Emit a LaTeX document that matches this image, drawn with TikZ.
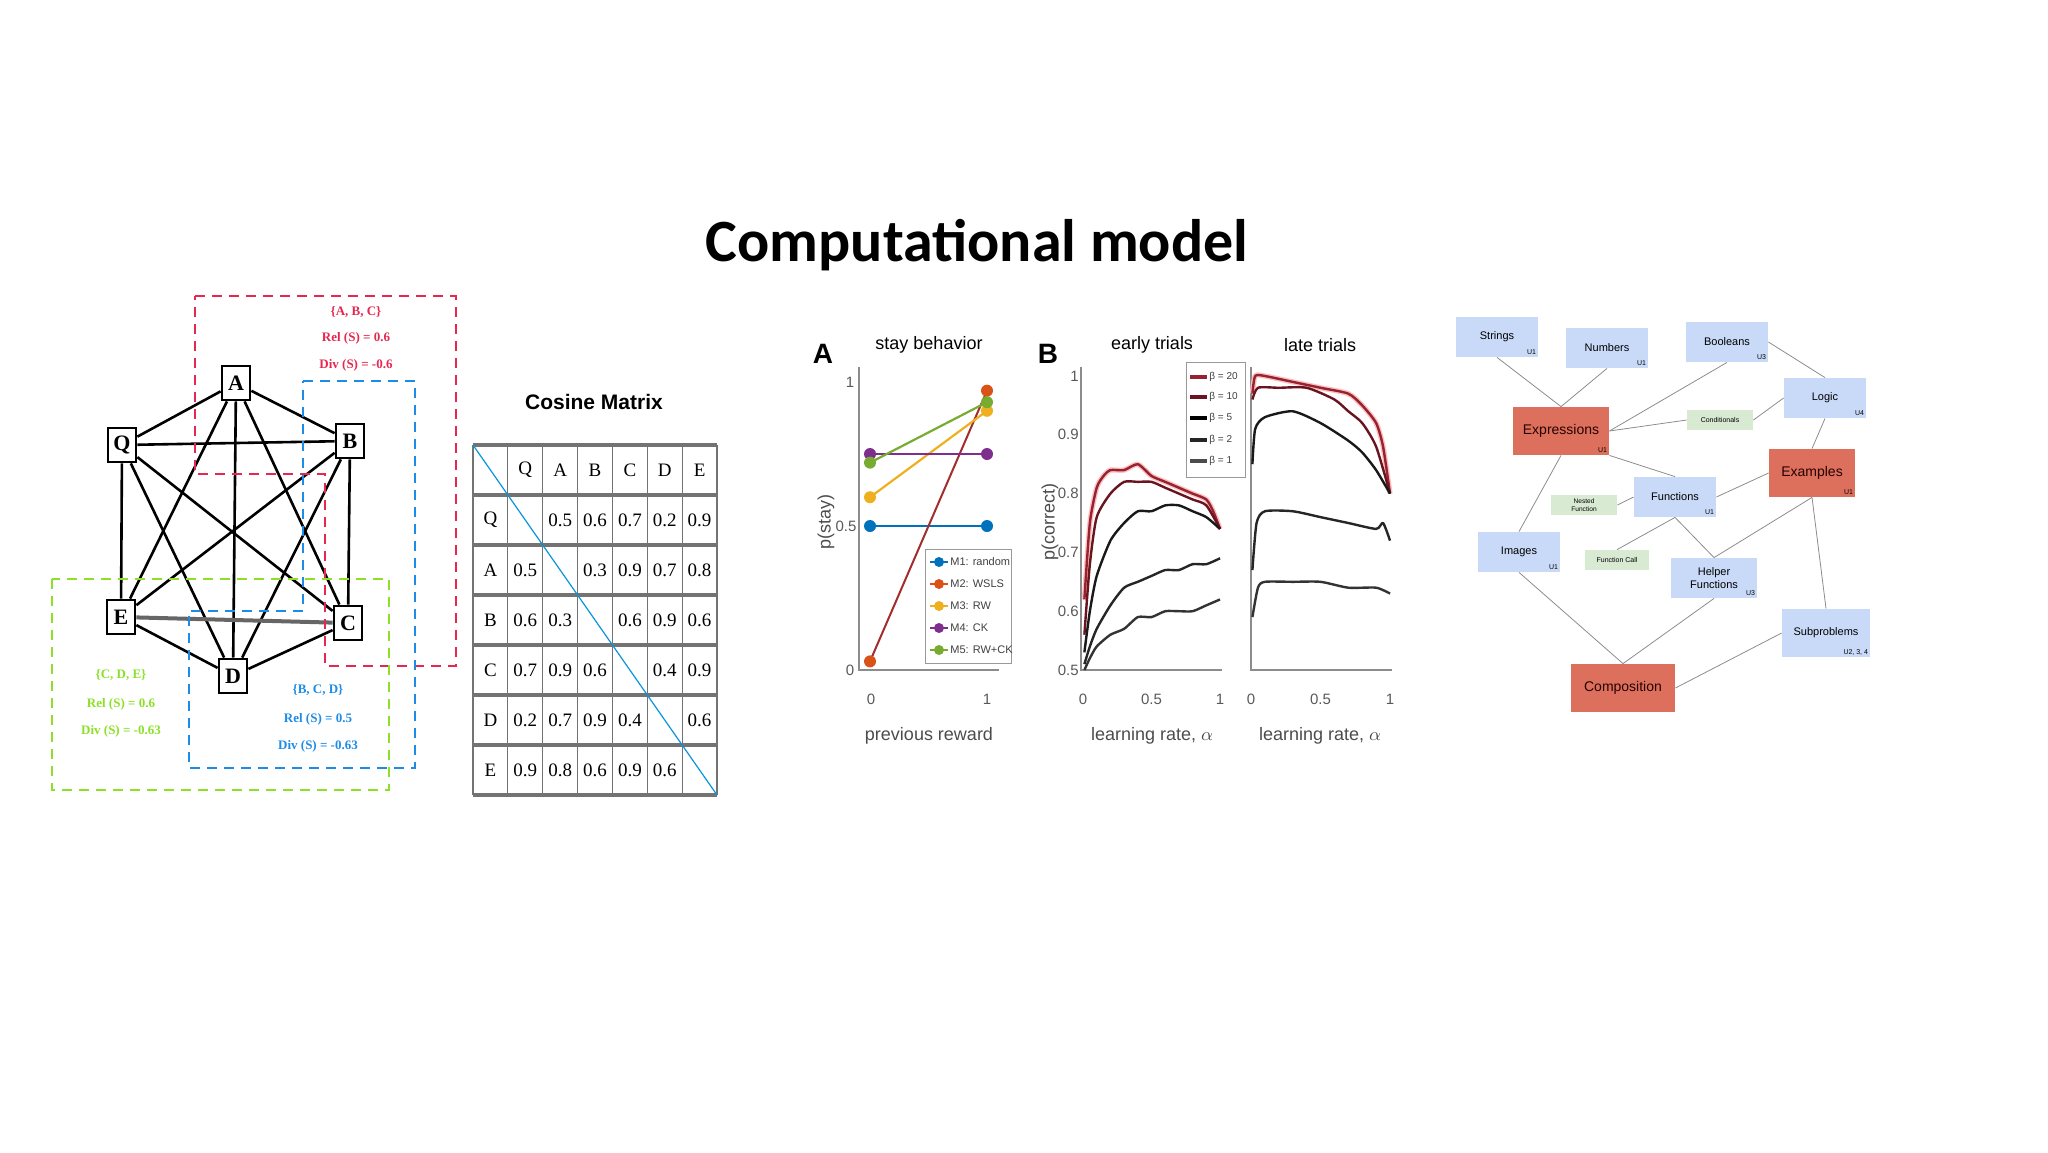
\documentclass[tikz,border=0pt]{standalone}
\usepackage{fontspec}
\setmainfont{Liberation Sans}
\newfontfamily\titlefont{Carlito}
\newfontfamily\serifb{Liberation Serif}
\definecolor{dred}{RGB}{230,40,80}
\definecolor{dblue}{RGB}{30,140,230}
\definecolor{dgreen}{RGB}{140,225,40}
\definecolor{mblue}{RGB}{0,114,189}
\definecolor{morange}{RGB}{217,83,25}
\definecolor{myellow}{RGB}{237,177,32}
\definecolor{mpurple}{RGB}{126,47,142}
\definecolor{mgreen}{RGB}{119,172,48}
\definecolor{b20}{RGB}{150,35,50}
\definecolor{b10}{RGB}{105,20,30}
\definecolor{cblue}{RGB}{201,218,248}
\definecolor{csalmon}{RGB}{221,112,92}
\definecolor{cgreen}{RGB}{217,234,211}
\tikzset{
  gnode/.style={draw,line width=1.4pt,fill=white,minimum width=14pt,minimum height=17pt,inner sep=1pt,font=\serifb\bfseries\fontsize{11}{11}\selectfont},
  gedge/.style={line width=1.3pt,black},
  dbox/.style={line width=1.3pt,dash pattern=on 5pt off 3.5pt},
  dlab/.style={font=\serifb\bfseries\fontsize{6.5}{7}\selectfont},
  mtx/.style={font=\serifb\fontsize{9.5}{10}\selectfont,inner sep=0pt},
  tick/.style={font=\fontsize{7.5}{8}\selectfont,text=black!65,inner sep=0pt},
  ax/.style={draw=black!45,line width=0.6pt},
  dot/.style={circle,inner sep=0pt,minimum size=6pt},
  cb/.style={fill=cblue,minimum width=#1,minimum height=20pt,inner sep=1pt,font=\fontsize{5.5}{6}\selectfont},
  cs/.style={fill=csalmon,minimum width=#1,minimum height=24pt,inner sep=1pt,font=\fontsize{7}{8}\selectfont,text=black!85!red},
  cg/.style={fill=cgreen,minimum width=#1,minimum height=10pt,inner sep=1pt,font=\fontsize{3.5}{4}\selectfont},
  cl/.style={draw=black!45,line width=0.4pt},
  unit/.style={font=\fontsize{3.5}{4}\selectfont,inner sep=1pt}
}
\begin{document}
\begin{tikzpicture}[x=0.5pt,y=-0.5pt]
\useasboundingbox (0,0) rectangle (2048,1152);
\node[font=\titlefont\bfseries\fontsize{30}{34}\selectfont] (title) at (977,245) {Computational model};
% ---------- graph ----------
\node[gnode] (A) at (236,383) {A};
\node[gnode] (Q) at (122,445) {Q};
\node[gnode] (B) at (350,441) {B};
\node[gnode] (E) at (121,617) {E};
\node[gnode] (C) at (348,623) {C};
\node[gnode] (D) at (233,676) {D};
\begin{scope}[on background layer/.style={}]
\foreach \u/\v in {Q/A,A/B,Q/B,A/E,A/C,A/D,Q/E,Q/D,Q/C,B/E,B/D,B/C,E/D,C/D}
  \draw[gedge] (\u) -- (\v);
\draw[line width=2pt,black!60] (E) -- (C);
\end{scope}
\foreach \n in {A,Q,B,E,C,D} \node[gnode] at (\n) {\n};
\draw[dbox,dred] (195,296) -- (456,296) -- (456,666) -- (325,666) -- (325,474) -- (195,474) -- cycle;
\draw[dbox,dblue] (303,381) -- (415,381) -- (415,768) -- (189,768) -- (189,611) -- (303,611) -- cycle;
\draw[dbox,dgreen] (52,579) rectangle (389,790);
\node[dlab,text=dred] (r1) at (356,312) {\{A, B, C\}};
\node[dlab,text=dred] (r2) at (356,338) {Rel (S) = 0.6};
\node[dlab,text=dred] (r3) at (356,365) {Div (S) = -0.6};
\node[dlab,text=dgreen] (g1) at (121,675) {\{C, D, E\}};
\node[dlab,text=dgreen] (g2) at (121,704) {Rel (S) = 0.6};
\node[dlab,text=dgreen] (g3) at (121,731) {Div (S) = -0.63};
\node[dlab,text=dblue] (b1) at (318,690) {\{B, C, D\}};
\node[dlab,text=dblue] (b2) at (318,719) {Rel (S) = 0.5};
\node[dlab,text=dblue] (b3) at (318,746) {Div (S) = -0.63};
% ---------- cosine matrix ----------
\node[font=\bfseries\fontsize{10.5}{11}\selectfont] (ctitle) at (594,402) {Cosine Matrix};
\foreach \i in {0,...,7} \draw[black!55,line width=0.6pt] ({473+34.86*\i},445) -- ({473+34.86*\i},795);
\foreach \j in {0,...,7} \draw[black!55,line width=1.6pt] (473,{445+50*\j}) -- (717,{445+50*\j});
\draw[cyan!80!blue,line width=0.6pt] (473,445) -- (717,795);
\foreach \l [count=\c] in {Q,A,B,C,D,E} {
  \node[mtx] (h\c) at ({473+34.86*(\c+0.5)},470) {\l};
  \node[mtx] (rl\c) at ({473+34.86*0.5},{445+50*(\c+0.5)}) {\l};
}
\foreach \r/\vals in {1/{,0.5,0.6,0.7,0.2,0.9},2/{0.5,,0.3,0.9,0.7,0.8},3/{0.6,0.3,,0.6,0.9,0.6},4/{0.7,0.9,0.6,,0.4,0.9},5/{0.2,0.7,0.9,0.4,,0.6},6/{0.9,0.8,0.6,0.9,0.6,}}
  \foreach \v [count=\c] in \vals
    \node[mtx] (m\r\c) at ({473+34.86*(\c+0.5)},{445+50*(\r+0.5)}) {\v};
% ---------- panel A ----------
\node[font=\bfseries\fontsize{14}{14}\selectfont] (pA) at (823,354) {A};
\node[font=\fontsize{9}{10}\selectfont] (tA) at (929,345) {stay behavior};
\draw[ax] (859,367) -- (859,670) -- (999,670);
\node[tick] (ya1) at (850,382) {1};
\node[tick] (ya5) at (846,526) {0.5};
\node[tick] (ya0) at (850,670) {0};
\node[tick] (xa0) at (871,699) {0};
\node[tick] (xa1) at (987,699) {1};
\node[font=\fontsize{9}{10}\selectfont,rotate=90,text=black!70] (yA) at (826,522) {p(stay)};
\node[font=\fontsize{9}{10}\selectfont,text=black!70] (xA) at (929,736) {previous reward};
\begin{scope}[shift={(870,670)}]
\begin{scope}[x={(58.5pt,0)},y={(0,144pt)}]
\draw[mblue,line width=1.3pt] (0,0.5) node[dot,fill=mblue] (a1) {} -- (1,0.5) node[dot,fill=mblue] (a2) {};
\draw[b20!80!morange,line width=1pt] (0,0.03) node[dot,fill=morange] (o1) {} -- (1,0.97) node[dot,fill=morange] (o2) {};
\draw[myellow,line width=1.1pt] (0,0.6) node[dot,fill=myellow] (y1) {} -- (1,0.9) node[dot,fill=myellow] (y2) {};
\draw[mpurple,line width=1.3pt] (0,0.75) node[dot,fill=mpurple] (p1) {} -- (1,0.75) node[dot,fill=mpurple] (p2) {};
\draw[mgreen,line width=1.1pt] (0,0.72) node[dot,fill=mgreen] (q1) {} -- (1,0.93) node[dot,fill=mgreen] (q2) {};
\end{scope}
\end{scope}
\draw[black!40,fill=white] (925,549) rectangle (1011,663);
\foreach \y/\c/\t [count=\k] in {562/mblue/M1: random,584/morange/M2: WSLS,606/myellow/M3: RW,628/mpurple/M4: CK,650/mgreen/M5: RW+CK}{
  \draw[\c,line width=1.3pt] (930,\y) -- (948,\y);
  \node[dot,fill=\c,minimum size=5pt] (ld\k) at (939,\y) {};
  \node[anchor=west,font=\fontsize{5.5}{6}\selectfont,inner sep=0pt,text=black!75] (lt\k) at (950,\y) {\t};
}
% ---------- panel B ----------
\node[font=\bfseries\fontsize{14}{14}\selectfont] (pB) at (1048,354) {B};
\node[font=\fontsize{9}{10}\selectfont] (tE) at (1152,345) {early trials};
\node[font=\fontsize{9}{10}\selectfont] (tL) at (1320,345) {late trials};
\draw[ax] (1081,367) -- (1081,670) -- (1222,670);
\draw[ax] (1251,367) -- (1251,670) -- (1392,670);
\foreach \p/\l in {1/1,0.9/0.9,0.8/0.8,0.7/0.7,0.6/0.6,0.5/0.5}
  \node[tick,anchor=east] (yt\l) at (1079,{964-588*\p}) {\l};
\foreach \x/\l in {0/0,0.5/0.5,1/1} {
  \node[tick] (xe\l) at ({1083+137*\x},699) {\l};
  \node[tick] (xl\l) at ({1251+139*\x},699) {\l};
}
\node[font=\fontsize{9}{10}\selectfont,rotate=90,text=black!70] (yB) at (1050,522) {p(correct)};
\node[font=\fontsize{9}{10}\selectfont,text=black!70] (xE) at (1152,736) {learning rate, $\alpha$};
\node[font=\fontsize{9}{10}\selectfont,text=black!70] (xL) at (1320,736) {learning rate, $\alpha$};
\begin{scope}[shift={(1083,964)}]
\begin{scope}[x={(68.5pt,0)},y={(0,294pt)},line width=1.2pt,line join=round]
\draw[red!25,line width=2.6pt] plot[smooth,tension=0.4] coordinates {(0.01,0.62)(0.05,0.75)(0.1,0.81)(0.15,0.83)(0.2,0.84)(0.3,0.84)(0.4,0.85)(0.5,0.83)(0.6,0.82)(0.7,0.81)(0.8,0.8)(0.9,0.79)(0.95,0.77)(1,0.74)};
\draw[b20] plot[smooth,tension=0.4] coordinates {(0.01,0.62)(0.05,0.75)(0.1,0.81)(0.15,0.83)(0.2,0.84)(0.3,0.84)(0.4,0.85)(0.5,0.83)(0.6,0.82)(0.7,0.81)(0.8,0.8)(0.9,0.79)(0.95,0.77)(1,0.74)};
\draw[b10] plot[smooth,tension=0.4] coordinates {(0.01,0.56)(0.05,0.68)(0.1,0.76)(0.2,0.8)(0.3,0.82)(0.4,0.82)(0.5,0.82)(0.6,0.81)(0.7,0.8)(0.8,0.79)(0.9,0.78)(1,0.74)};
\draw[black!90] plot[smooth,tension=0.4] coordinates {(0.01,0.53)(0.05,0.6)(0.1,0.66)(0.2,0.72)(0.3,0.75)(0.4,0.77)(0.5,0.77)(0.6,0.78)(0.7,0.78)(0.8,0.77)(0.9,0.76)(1,0.74)};
\draw[black!85] plot[smooth,tension=0.4] coordinates {(0.01,0.51)(0.05,0.54)(0.1,0.57)(0.2,0.61)(0.3,0.64)(0.4,0.65)(0.5,0.66)(0.6,0.67)(0.7,0.67)(0.8,0.68)(0.9,0.68)(1,0.69)};
\draw[black!80] plot[smooth,tension=0.4] coordinates {(0.01,0.5)(0.05,0.52)(0.1,0.54)(0.2,0.56)(0.3,0.57)(0.4,0.59)(0.5,0.59)(0.6,0.6)(0.7,0.6)(0.8,0.6)(0.9,0.61)(1,0.62)};
\end{scope}
\end{scope}
\begin{scope}[shift={(1251,964)}]
\begin{scope}[x={(69.5pt,0)},y={(0,294pt)},line width=1.2pt,line join=round]
\draw[red!25,line width=2.6pt] plot[smooth,tension=0.4] coordinates {(0.01,0.97)(0.03,1)(0.1,1)(0.3,0.99)(0.5,0.98)(0.7,0.97)(0.8,0.95)(0.9,0.92)(0.95,0.88)(1,0.8)};
\draw[b20] plot[smooth,tension=0.4] coordinates {(0.01,0.97)(0.03,1)(0.1,1)(0.3,0.99)(0.5,0.98)(0.7,0.97)(0.8,0.95)(0.9,0.92)(0.95,0.88)(1,0.8)};
\draw[b10] plot[smooth,tension=0.4] coordinates {(0.01,0.96)(0.05,0.98)(0.2,0.98)(0.4,0.98)(0.6,0.96)(0.7,0.94)(0.8,0.92)(0.9,0.88)(1,0.8)};
\draw[black!90] plot[smooth,tension=0.4] coordinates {(0.01,0.85)(0.03,0.91)(0.1,0.93)(0.3,0.94)(0.5,0.92)(0.7,0.89)(0.8,0.87)(0.9,0.84)(1,0.8)};
\draw[black!85] plot[smooth,tension=0.4] coordinates {(0.01,0.67)(0.04,0.75)(0.1,0.77)(0.3,0.77)(0.5,0.76)(0.7,0.75)(0.9,0.74)(0.95,0.75)(1,0.72)};
\draw[black!80] plot[smooth,tension=0.4] coordinates {(0.01,0.59)(0.05,0.64)(0.1,0.65)(0.3,0.65)(0.5,0.65)(0.7,0.64)(0.9,0.64)(1,0.63)};
\end{scope}
\end{scope}
\draw[black!40,fill=white] (1186,362) rectangle (1245,477);
\foreach \y/\c/\t [count=\k] in {377/b20/20,397/b10/10,418/black/5,440/black!85/2,461/black!70/1}{
  \draw[\c,line width=1.6pt] (1190,\y) -- (1207,\y);
  \node[anchor=west,font=\fontsize{5}{6}\selectfont,inner sep=0pt,text=black!75] (bl\k) at (1209,\y) {β = \t};
}
% ---------- concept map ----------
\node[cb=41pt] (str) at (1497,337) {Strings};
\node[cb=41pt] (num) at (1607,348) {Numbers};
\node[cb=41pt] (boo) at (1727,342) {Booleans};
\node[cb=41pt] (log) at (1825,398) {Logic};
\node[cs=48pt] (exp) at (1561,431) {Expressions};
\node[cg=33pt] (con) at (1720,420) {Conditionals};
\node[cs=43pt] (exa) at (1812,473) {Examples};
\node[cg=33pt,align=center,font=\fontsize{3.3}{4}\selectfont] (nes) at (1584,505) {Nested\\Function};
\node[cb=41pt] (fun) at (1675,497) {Functions};
\node[cb=41pt] (img) at (1519,552) {Images};
\node[cg=32pt] (fca) at (1617,560) {Function Call};
\node[cb=43pt,align=center,font=\fontsize{5.5}{6.5}\selectfont] (hel) at (1714,578) {Helper\\Functions};
\node[cb=44pt,minimum height=24pt] (sub) at (1826,633) {Subproblems};
\node[cs=52pt] (com) at (1623,688) {Composition};
\node[unit,anchor=south east] (u1) at (str.south east) {U1};
\node[unit,anchor=south east] (u2) at (num.south east) {U1};
\node[unit,anchor=south east] (u3) at (boo.south east) {U3};
\node[unit,anchor=south east] (u4) at (log.south east) {U4};
\node[unit,anchor=south east] (u5) at (exp.south east) {U1};
\node[unit,anchor=south east] (u6) at (exa.south east) {U1};
\node[unit,anchor=south east] (u7) at (fun.south east) {U1};
\node[unit,anchor=south east] (u8) at (img.south east) {U1};
\node[unit,anchor=south east] (u9) at (hel.south east) {U3};
\node[unit,anchor=south east] (u10) at (sub.south east) {U2, 3, 4};
\begin{scope}[on background layer/.style={}]
\draw[cl] (str.south) -- (exp.north);
\draw[cl] (num.south) -- (exp.north);
\draw[cl] (boo.south) -- (exp.east);
\draw[cl] (boo.east) -- (log.north);
\draw[cl] (con.west) -- (exp.east);
\draw[cl] (con.east) -- (log.west);
\draw[cl] (log.south) -- (exa.north);
\draw[cl] (exp.south east) -- (fun.north);
\draw[cl] (exp.south) -- (img.north);
\draw[cl] (fun.west) -- (nes.east);
\draw[cl] (fun.east) -- (exa.west);
\draw[cl] (fun.south) -- (fca.north);
\draw[cl] (fun.south) -- (hel.north);
\draw[cl] (hel.north) -- (exa.south);
\draw[cl] (exa.south) -- (sub.north);
\draw[cl] (img.south) -- (com.north);
\draw[cl] (hel.south) -- (com.north);
\draw[cl] (sub.west) -- (com.east);
\end{scope}
\end{tikzpicture}
\end{document}
